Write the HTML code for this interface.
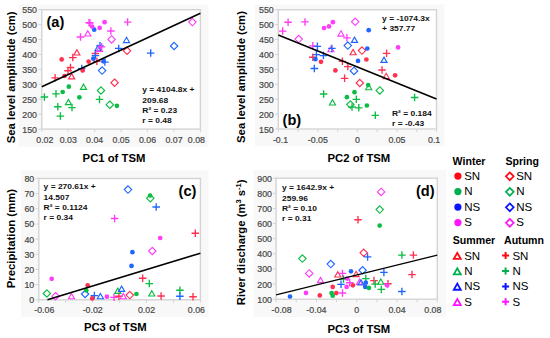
<!DOCTYPE html>
<html><head><meta charset="utf-8"><style>
html,body{margin:0;padding:0;background:#fff;}
body{width:550px;height:338px;overflow:hidden;}
svg{display:block;font-family:"Liberation Sans", sans-serif;}
.tk{font-size:9.8px;fill:#474747;stroke:#474747;stroke-width:0.22px;}
.eq{font-size:7.9px;font-weight:bold;fill:#111;}
.pl{font-size:14.6px;font-weight:bold;fill:#000;}
.at{font-size:11.3px;font-weight:bold;fill:#000;}
.lh{font-size:10.6px;font-weight:bold;fill:#000;}
.lt{font-size:11.5px;fill:#000;}
</style></head><body>
<svg width="550" height="338" viewBox="0 0 550 338">
<rect width="550" height="338" fill="#fff"/>
<rect x="18.6" y="4.5" width="190.0" height="142.2" fill="#f8f8f8"/>
<rect x="254.9" y="4.5" width="189.5" height="141.8" fill="#f8f8f8"/>
<rect x="21.0" y="170.5" width="187.6" height="146.5" fill="#f8f8f8"/>
<rect x="253.5" y="170.0" width="192.8" height="146.9" fill="#f8f8f8"/>
<rect x="41.8" y="9.7" width="158.60000000000002" height="119.39999999999999" fill="#ffffff" stroke="#d4d4d4" stroke-width="1.4"/>
<line x1="38.599999999999994" y1="129.10" x2="41.8" y2="129.10" stroke="#d4d4d4" stroke-width="1"/>
<text transform="translate(37.00 132.60) scale(0.9 1)" text-anchor="end" class="tk">150</text>
<line x1="38.599999999999994" y1="114.17" x2="41.8" y2="114.17" stroke="#d4d4d4" stroke-width="1"/>
<text transform="translate(37.00 117.67) scale(0.9 1)" text-anchor="end" class="tk">200</text>
<line x1="38.599999999999994" y1="99.25" x2="41.8" y2="99.25" stroke="#d4d4d4" stroke-width="1"/>
<text transform="translate(37.00 102.75) scale(0.9 1)" text-anchor="end" class="tk">250</text>
<line x1="38.599999999999994" y1="84.32" x2="41.8" y2="84.32" stroke="#d4d4d4" stroke-width="1"/>
<text transform="translate(37.00 87.82) scale(0.9 1)" text-anchor="end" class="tk">300</text>
<line x1="38.599999999999994" y1="69.40" x2="41.8" y2="69.40" stroke="#d4d4d4" stroke-width="1"/>
<text transform="translate(37.00 72.90) scale(0.9 1)" text-anchor="end" class="tk">350</text>
<line x1="38.599999999999994" y1="54.47" x2="41.8" y2="54.47" stroke="#d4d4d4" stroke-width="1"/>
<text transform="translate(37.00 57.97) scale(0.9 1)" text-anchor="end" class="tk">400</text>
<line x1="38.599999999999994" y1="39.55" x2="41.8" y2="39.55" stroke="#d4d4d4" stroke-width="1"/>
<text transform="translate(37.00 43.05) scale(0.9 1)" text-anchor="end" class="tk">450</text>
<line x1="38.599999999999994" y1="24.62" x2="41.8" y2="24.62" stroke="#d4d4d4" stroke-width="1"/>
<text transform="translate(37.00 28.12) scale(0.9 1)" text-anchor="end" class="tk">500</text>
<line x1="38.599999999999994" y1="9.70" x2="41.8" y2="9.70" stroke="#d4d4d4" stroke-width="1"/>
<text transform="translate(37.00 13.20) scale(0.9 1)" text-anchor="end" class="tk">550</text>
<line x1="41.80" y1="129.1" x2="41.80" y2="132.1" stroke="#d4d4d4" stroke-width="1"/>
<line x1="68.23" y1="129.1" x2="68.23" y2="132.1" stroke="#d4d4d4" stroke-width="1"/>
<line x1="94.67" y1="129.1" x2="94.67" y2="132.1" stroke="#d4d4d4" stroke-width="1"/>
<line x1="121.10" y1="129.1" x2="121.10" y2="132.1" stroke="#d4d4d4" stroke-width="1"/>
<line x1="147.53" y1="129.1" x2="147.53" y2="132.1" stroke="#d4d4d4" stroke-width="1"/>
<line x1="173.97" y1="129.1" x2="173.97" y2="132.1" stroke="#d4d4d4" stroke-width="1"/>
<line x1="200.40" y1="129.1" x2="200.40" y2="132.1" stroke="#d4d4d4" stroke-width="1"/>
<text transform="translate(44.80 142.70) scale(0.9 1)" text-anchor="middle" class="tk">0.02</text>
<text transform="translate(68.23 142.70) scale(0.9 1)" text-anchor="middle" class="tk">0.03</text>
<text transform="translate(94.67 142.70) scale(0.9 1)" text-anchor="middle" class="tk">0.04</text>
<text transform="translate(121.10 142.70) scale(0.9 1)" text-anchor="middle" class="tk">0.05</text>
<text transform="translate(147.53 142.70) scale(0.9 1)" text-anchor="middle" class="tk">0.06</text>
<text transform="translate(173.97 142.70) scale(0.9 1)" text-anchor="middle" class="tk">0.07</text>
<text transform="translate(196.40 142.70) scale(0.9 1)" text-anchor="middle" class="tk">0.08</text>
<rect x="278.3" y="9.7" width="158.2" height="119.3" fill="#ffffff" stroke="#d4d4d4" stroke-width="1.4"/>
<line x1="275.1" y1="129.00" x2="278.3" y2="129.00" stroke="#d4d4d4" stroke-width="1"/>
<text transform="translate(273.70 132.50) scale(0.9 1)" text-anchor="end" class="tk">150</text>
<line x1="275.1" y1="114.09" x2="278.3" y2="114.09" stroke="#d4d4d4" stroke-width="1"/>
<text transform="translate(273.70 117.59) scale(0.9 1)" text-anchor="end" class="tk">200</text>
<line x1="275.1" y1="99.17" x2="278.3" y2="99.17" stroke="#d4d4d4" stroke-width="1"/>
<text transform="translate(273.70 102.67) scale(0.9 1)" text-anchor="end" class="tk">250</text>
<line x1="275.1" y1="84.26" x2="278.3" y2="84.26" stroke="#d4d4d4" stroke-width="1"/>
<text transform="translate(273.70 87.76) scale(0.9 1)" text-anchor="end" class="tk">300</text>
<line x1="275.1" y1="69.35" x2="278.3" y2="69.35" stroke="#d4d4d4" stroke-width="1"/>
<text transform="translate(273.70 72.85) scale(0.9 1)" text-anchor="end" class="tk">350</text>
<line x1="275.1" y1="54.44" x2="278.3" y2="54.44" stroke="#d4d4d4" stroke-width="1"/>
<text transform="translate(273.70 57.94) scale(0.9 1)" text-anchor="end" class="tk">400</text>
<line x1="275.1" y1="39.53" x2="278.3" y2="39.53" stroke="#d4d4d4" stroke-width="1"/>
<text transform="translate(273.70 43.03) scale(0.9 1)" text-anchor="end" class="tk">450</text>
<line x1="275.1" y1="24.61" x2="278.3" y2="24.61" stroke="#d4d4d4" stroke-width="1"/>
<text transform="translate(273.70 28.11) scale(0.9 1)" text-anchor="end" class="tk">500</text>
<line x1="275.1" y1="9.70" x2="278.3" y2="9.70" stroke="#d4d4d4" stroke-width="1"/>
<text transform="translate(273.70 13.20) scale(0.9 1)" text-anchor="end" class="tk">550</text>
<line x1="278.30" y1="129.0" x2="278.30" y2="132.0" stroke="#d4d4d4" stroke-width="1"/>
<line x1="298.07" y1="129.0" x2="298.07" y2="132.0" stroke="#d4d4d4" stroke-width="1"/>
<line x1="317.85" y1="129.0" x2="317.85" y2="132.0" stroke="#d4d4d4" stroke-width="1"/>
<line x1="337.62" y1="129.0" x2="337.62" y2="132.0" stroke="#d4d4d4" stroke-width="1"/>
<line x1="357.40" y1="129.0" x2="357.40" y2="132.0" stroke="#d4d4d4" stroke-width="1"/>
<line x1="377.18" y1="129.0" x2="377.18" y2="132.0" stroke="#d4d4d4" stroke-width="1"/>
<line x1="396.95" y1="129.0" x2="396.95" y2="132.0" stroke="#d4d4d4" stroke-width="1"/>
<line x1="416.73" y1="129.0" x2="416.73" y2="132.0" stroke="#d4d4d4" stroke-width="1"/>
<line x1="436.50" y1="129.0" x2="436.50" y2="132.0" stroke="#d4d4d4" stroke-width="1"/>
<text transform="translate(280.50 142.70) scale(0.9 1)" text-anchor="middle" class="tk">-0.1</text>
<text transform="translate(317.85 142.70) scale(0.9 1)" text-anchor="middle" class="tk">-0.05</text>
<text transform="translate(357.40 142.70) scale(0.9 1)" text-anchor="middle" class="tk">0</text>
<text transform="translate(396.95 142.70) scale(0.9 1)" text-anchor="middle" class="tk">0.05</text>
<text transform="translate(434.10 142.70) scale(0.9 1)" text-anchor="middle" class="tk">0.1</text>
<rect x="38.8" y="178.5" width="161.60000000000002" height="121.30000000000001" fill="#ffffff" stroke="#d4d4d4" stroke-width="1.4"/>
<line x1="35.599999999999994" y1="299.80" x2="38.8" y2="299.80" stroke="#d4d4d4" stroke-width="1"/>
<text transform="translate(34.20 303.30) scale(0.9 1)" text-anchor="end" class="tk">0</text>
<line x1="35.599999999999994" y1="284.64" x2="38.8" y2="284.64" stroke="#d4d4d4" stroke-width="1"/>
<text transform="translate(34.20 288.14) scale(0.9 1)" text-anchor="end" class="tk">10</text>
<line x1="35.599999999999994" y1="269.48" x2="38.8" y2="269.48" stroke="#d4d4d4" stroke-width="1"/>
<text transform="translate(34.20 272.98) scale(0.9 1)" text-anchor="end" class="tk">20</text>
<line x1="35.599999999999994" y1="254.31" x2="38.8" y2="254.31" stroke="#d4d4d4" stroke-width="1"/>
<text transform="translate(34.20 257.81) scale(0.9 1)" text-anchor="end" class="tk">30</text>
<line x1="35.599999999999994" y1="239.15" x2="38.8" y2="239.15" stroke="#d4d4d4" stroke-width="1"/>
<text transform="translate(34.20 242.65) scale(0.9 1)" text-anchor="end" class="tk">40</text>
<line x1="35.599999999999994" y1="223.99" x2="38.8" y2="223.99" stroke="#d4d4d4" stroke-width="1"/>
<text transform="translate(34.20 227.49) scale(0.9 1)" text-anchor="end" class="tk">50</text>
<line x1="35.599999999999994" y1="208.82" x2="38.8" y2="208.82" stroke="#d4d4d4" stroke-width="1"/>
<text transform="translate(34.20 212.32) scale(0.9 1)" text-anchor="end" class="tk">60</text>
<line x1="35.599999999999994" y1="193.66" x2="38.8" y2="193.66" stroke="#d4d4d4" stroke-width="1"/>
<text transform="translate(34.20 197.16) scale(0.9 1)" text-anchor="end" class="tk">70</text>
<line x1="35.599999999999994" y1="178.50" x2="38.8" y2="178.50" stroke="#d4d4d4" stroke-width="1"/>
<text transform="translate(34.20 182.00) scale(0.9 1)" text-anchor="end" class="tk">80</text>
<line x1="38.80" y1="299.8" x2="38.80" y2="302.8" stroke="#d4d4d4" stroke-width="1"/>
<line x1="65.73" y1="299.8" x2="65.73" y2="302.8" stroke="#d4d4d4" stroke-width="1"/>
<line x1="92.67" y1="299.8" x2="92.67" y2="302.8" stroke="#d4d4d4" stroke-width="1"/>
<line x1="119.60" y1="299.8" x2="119.60" y2="302.8" stroke="#d4d4d4" stroke-width="1"/>
<line x1="146.53" y1="299.8" x2="146.53" y2="302.8" stroke="#d4d4d4" stroke-width="1"/>
<line x1="173.47" y1="299.8" x2="173.47" y2="302.8" stroke="#d4d4d4" stroke-width="1"/>
<line x1="200.40" y1="299.8" x2="200.40" y2="302.8" stroke="#d4d4d4" stroke-width="1"/>
<text transform="translate(44.30 313.20) scale(0.9 1)" text-anchor="middle" class="tk">-0.06</text>
<text transform="translate(92.67 313.20) scale(0.9 1)" text-anchor="middle" class="tk">-0.02</text>
<text transform="translate(146.53 313.20) scale(0.9 1)" text-anchor="middle" class="tk">0.02</text>
<text transform="translate(196.40 313.20) scale(0.9 1)" text-anchor="middle" class="tk">0.06</text>
<rect x="276.1" y="178.2" width="161.2" height="121.0" fill="#ffffff" stroke="#d4d4d4" stroke-width="1.4"/>
<line x1="272.90000000000003" y1="299.20" x2="276.1" y2="299.20" stroke="#d4d4d4" stroke-width="1"/>
<text transform="translate(272.00 302.70) scale(0.9 1)" text-anchor="end" class="tk">100</text>
<line x1="272.90000000000003" y1="284.07" x2="276.1" y2="284.07" stroke="#d4d4d4" stroke-width="1"/>
<text transform="translate(272.00 287.57) scale(0.9 1)" text-anchor="end" class="tk">200</text>
<line x1="272.90000000000003" y1="268.95" x2="276.1" y2="268.95" stroke="#d4d4d4" stroke-width="1"/>
<text transform="translate(272.00 272.45) scale(0.9 1)" text-anchor="end" class="tk">300</text>
<line x1="272.90000000000003" y1="253.82" x2="276.1" y2="253.82" stroke="#d4d4d4" stroke-width="1"/>
<text transform="translate(272.00 257.32) scale(0.9 1)" text-anchor="end" class="tk">400</text>
<line x1="272.90000000000003" y1="238.70" x2="276.1" y2="238.70" stroke="#d4d4d4" stroke-width="1"/>
<text transform="translate(272.00 242.20) scale(0.9 1)" text-anchor="end" class="tk">500</text>
<line x1="272.90000000000003" y1="223.57" x2="276.1" y2="223.57" stroke="#d4d4d4" stroke-width="1"/>
<text transform="translate(272.00 227.07) scale(0.9 1)" text-anchor="end" class="tk">600</text>
<line x1="272.90000000000003" y1="208.45" x2="276.1" y2="208.45" stroke="#d4d4d4" stroke-width="1"/>
<text transform="translate(272.00 211.95) scale(0.9 1)" text-anchor="end" class="tk">700</text>
<line x1="272.90000000000003" y1="193.32" x2="276.1" y2="193.32" stroke="#d4d4d4" stroke-width="1"/>
<text transform="translate(272.00 196.82) scale(0.9 1)" text-anchor="end" class="tk">800</text>
<line x1="272.90000000000003" y1="178.20" x2="276.1" y2="178.20" stroke="#d4d4d4" stroke-width="1"/>
<text transform="translate(272.00 181.70) scale(0.9 1)" text-anchor="end" class="tk">900</text>
<line x1="276.10" y1="299.2" x2="276.10" y2="302.2" stroke="#d4d4d4" stroke-width="1"/>
<line x1="296.25" y1="299.2" x2="296.25" y2="302.2" stroke="#d4d4d4" stroke-width="1"/>
<line x1="316.40" y1="299.2" x2="316.40" y2="302.2" stroke="#d4d4d4" stroke-width="1"/>
<line x1="336.55" y1="299.2" x2="336.55" y2="302.2" stroke="#d4d4d4" stroke-width="1"/>
<line x1="356.70" y1="299.2" x2="356.70" y2="302.2" stroke="#d4d4d4" stroke-width="1"/>
<line x1="376.85" y1="299.2" x2="376.85" y2="302.2" stroke="#d4d4d4" stroke-width="1"/>
<line x1="397.00" y1="299.2" x2="397.00" y2="302.2" stroke="#d4d4d4" stroke-width="1"/>
<line x1="417.15" y1="299.2" x2="417.15" y2="302.2" stroke="#d4d4d4" stroke-width="1"/>
<line x1="437.30" y1="299.2" x2="437.30" y2="302.2" stroke="#d4d4d4" stroke-width="1"/>
<text transform="translate(281.60 313.20) scale(0.9 1)" text-anchor="middle" class="tk">-0.08</text>
<text transform="translate(316.40 313.20) scale(0.9 1)" text-anchor="middle" class="tk">-0.04</text>
<text transform="translate(356.70 313.20) scale(0.9 1)" text-anchor="middle" class="tk">0</text>
<text transform="translate(397.00 313.20) scale(0.9 1)" text-anchor="middle" class="tk">0.04</text>
<text transform="translate(432.80 313.20) scale(0.9 1)" text-anchor="middle" class="tk">0.08</text>
<path d="M40.65 97.00H48.15M44.40 93.25V100.75" fill="none" stroke="#0cbc44" stroke-width="1.35"/>
<path d="M52.25 93.80H59.75M56.00 90.05V97.55" fill="none" stroke="#0cbc44" stroke-width="1.35"/>
<path d="M83.50 84.09L86.55 89.38L80.45 89.38Z" fill="none" stroke="#0cbc44" stroke-width="1.15" stroke-linejoin="miter"/>
<path d="M68.40 99.39L71.45 104.68L65.35 104.68Z" fill="none" stroke="#0cbc44" stroke-width="1.15" stroke-linejoin="miter"/>
<path d="M68.25 107.60H75.75M72.00 103.85V111.35" fill="none" stroke="#0cbc44" stroke-width="1.35"/>
<path d="M54.05 106.70H61.55M57.80 102.95V110.45" fill="none" stroke="#0cbc44" stroke-width="1.35"/>
<path d="M56.65 116.10H64.15M60.40 112.35V119.85" fill="none" stroke="#0cbc44" stroke-width="1.35"/>
<path d="M101.00 86.80L104.70 90.50L101.00 94.20L97.30 90.50Z" fill="none" stroke="#0cbc44" stroke-width="1.15"/>
<path d="M95.75 99.40H103.25M99.50 95.65V103.15" fill="none" stroke="#0cbc44" stroke-width="1.35"/>
<path d="M109.80 101.00L113.50 104.70L109.80 108.40L106.10 104.70Z" fill="none" stroke="#0cbc44" stroke-width="1.15"/>
<path d="M51.35 77.80H58.85M55.10 74.05V81.55" fill="none" stroke="#ff3050" stroke-width="1.35"/>
<path d="M64.25 70.70H71.75M68.00 66.95V74.45" fill="none" stroke="#ff3050" stroke-width="1.35"/>
<path d="M66.75 67.50H74.25M70.50 63.75V71.25" fill="none" stroke="#ff3050" stroke-width="1.35"/>
<path d="M71.60 73.59L74.65 78.88L68.55 78.88Z" fill="none" stroke="#ff3050" stroke-width="1.15" stroke-linejoin="miter"/>
<path d="M76.90 49.69L79.95 54.98L73.85 54.98Z" fill="none" stroke="#ff3050" stroke-width="1.15" stroke-linejoin="miter"/>
<path d="M69.05 57.60H76.55M72.80 53.85V61.35" fill="none" stroke="#ff3050" stroke-width="1.35"/>
<path d="M91.65 53.50H99.15M95.40 49.75V57.25" fill="none" stroke="#ff3050" stroke-width="1.35"/>
<path d="M93.15 61.30H100.65M96.90 57.55V65.05" fill="none" stroke="#ff3050" stroke-width="1.35"/>
<path d="M114.60 79.00L118.30 82.70L114.60 86.40L110.90 82.70Z" fill="none" stroke="#ff3050" stroke-width="1.15"/>
<path d="M127.00 47.10L130.70 50.80L127.00 54.50L123.30 50.80Z" fill="none" stroke="#ff3050" stroke-width="1.15"/>
<path d="M77.95 68.60H85.45M81.70 64.85V72.35" fill="none" stroke="#1e66ff" stroke-width="1.35"/>
<path d="M91.65 55.60H99.15M95.40 51.85V59.35" fill="none" stroke="#1e66ff" stroke-width="1.35"/>
<path d="M96.25 45.80H103.75M100.00 42.05V49.55" fill="none" stroke="#1e66ff" stroke-width="1.35"/>
<path d="M98.00 45.49L101.05 50.78L94.95 50.78Z" fill="none" stroke="#1e66ff" stroke-width="1.15" stroke-linejoin="miter"/>
<path d="M101.15 62.10H108.65M104.90 58.35V65.85" fill="none" stroke="#1e66ff" stroke-width="1.35"/>
<path d="M102.10 66.90L105.80 70.60L102.10 74.30L98.40 70.60Z" fill="none" stroke="#1e66ff" stroke-width="1.15"/>
<path d="M114.95 48.40H122.45M118.70 44.65V52.15" fill="none" stroke="#1e66ff" stroke-width="1.35"/>
<path d="M126.50 37.29L129.55 42.58L123.45 42.58Z" fill="none" stroke="#1e66ff" stroke-width="1.15" stroke-linejoin="miter"/>
<path d="M174.10 42.30L177.80 46.00L174.10 49.70L170.40 46.00Z" fill="none" stroke="#1e66ff" stroke-width="1.15"/>
<path d="M146.95 53.10H154.45M150.70 49.35V56.85" fill="none" stroke="#1e66ff" stroke-width="1.35"/>
<path d="M85.25 22.60H92.75M89.00 18.85V26.35" fill="none" stroke="#ff3cf8" stroke-width="1.35"/>
<path d="M86.25 23.00H93.75M90.00 19.25V26.75" fill="none" stroke="#ff3cf8" stroke-width="1.35"/>
<path d="M107.15 31.00H114.65M110.90 27.25V34.75" fill="none" stroke="#ff3cf8" stroke-width="1.35"/>
<path d="M111.60 35.70L115.30 39.40L111.60 43.10L107.90 39.40Z" fill="none" stroke="#ff3cf8" stroke-width="1.15"/>
<path d="M87.80 30.69L90.85 35.98L84.75 35.98Z" fill="none" stroke="#ff3cf8" stroke-width="1.15" stroke-linejoin="miter"/>
<path d="M76.75 37.00H84.25M80.50 33.25V40.75" fill="none" stroke="#ff3cf8" stroke-width="1.35"/>
<path d="M97.85 46.80H105.35M101.60 43.05V50.55" fill="none" stroke="#ff3cf8" stroke-width="1.35"/>
<path d="M99.50 46.09L102.55 51.38L96.45 51.38Z" fill="none" stroke="#ff3cf8" stroke-width="1.15" stroke-linejoin="miter"/>
<path d="M123.85 22.10H131.35M127.60 18.35V25.85" fill="none" stroke="#ff3cf8" stroke-width="1.35"/>
<path d="M192.40 18.40L196.10 22.10L192.40 25.80L188.70 22.10Z" fill="none" stroke="#ff3cf8" stroke-width="1.15"/>
<circle cx="62.7" cy="92.0" r="2.35" fill="#0cbc44"/>
<circle cx="68.8" cy="86.7" r="2.35" fill="#0cbc44"/>
<circle cx="79.4" cy="97.3" r="2.35" fill="#0cbc44"/>
<circle cx="116.9" cy="105.8" r="2.35" fill="#0cbc44"/>
<circle cx="64.5" cy="76.0" r="2.35" fill="#ff3050"/>
<circle cx="82.7" cy="70.5" r="2.35" fill="#ff3050"/>
<circle cx="61.7" cy="59.4" r="2.35" fill="#ff3050"/>
<circle cx="88.6" cy="61.6" r="2.35" fill="#ff3050"/>
<circle cx="93.3" cy="58.7" r="2.35" fill="#1e66ff"/>
<circle cx="103.6" cy="61.3" r="2.35" fill="#1e66ff"/>
<circle cx="94.2" cy="29.7" r="2.35" fill="#1e66ff"/>
<circle cx="92.1" cy="26.5" r="2.35" fill="#ff3cf8"/>
<circle cx="99.7" cy="27.9" r="2.35" fill="#ff3cf8"/>
<circle cx="104.6" cy="22.2" r="2.35" fill="#ff3cf8"/>
<path d="M284.35 22.20H291.85M288.10 18.45V25.95" fill="none" stroke="#ff3cf8" stroke-width="1.35"/>
<path d="M301.25 21.90H308.75M305.00 18.15V25.65" fill="none" stroke="#ff3cf8" stroke-width="1.35"/>
<path d="M278.95 31.10H286.45M282.70 27.35V34.85" fill="none" stroke="#ff3cf8" stroke-width="1.35"/>
<path d="M298.70 35.40L302.40 39.10L298.70 42.80L295.00 39.10Z" fill="none" stroke="#ff3cf8" stroke-width="1.15"/>
<path d="M309.05 45.80H316.55M312.80 42.05V49.55" fill="none" stroke="#ff3cf8" stroke-width="1.35"/>
<path d="M330.90 46.49L333.95 51.78L327.85 51.78Z" fill="none" stroke="#ff3cf8" stroke-width="1.15" stroke-linejoin="miter"/>
<path d="M341.00 30.79L344.05 36.08L337.95 36.08Z" fill="none" stroke="#ff3cf8" stroke-width="1.15" stroke-linejoin="miter"/>
<path d="M343.15 37.80H350.65M346.90 34.05V41.55" fill="none" stroke="#ff3cf8" stroke-width="1.35"/>
<path d="M355.20 18.10L358.90 21.80L355.20 25.50L351.50 21.80Z" fill="none" stroke="#ff3cf8" stroke-width="1.15"/>
<path d="M313.65 46.30H321.15M317.40 42.55V50.05" fill="none" stroke="#1e66ff" stroke-width="1.35"/>
<path d="M328.15 48.40H335.65M331.90 44.65V52.15" fill="none" stroke="#1e66ff" stroke-width="1.35"/>
<path d="M312.65 54.60H320.15M316.40 50.85V58.35" fill="none" stroke="#1e66ff" stroke-width="1.35"/>
<path d="M319.65 55.60H327.15M323.40 51.85V59.35" fill="none" stroke="#1e66ff" stroke-width="1.35"/>
<path d="M310.55 68.50H318.05M314.30 64.75V72.25" fill="none" stroke="#1e66ff" stroke-width="1.35"/>
<path d="M354.50 37.09L357.55 42.38L351.45 42.38Z" fill="none" stroke="#1e66ff" stroke-width="1.15" stroke-linejoin="miter"/>
<path d="M347.80 41.90L351.50 45.60L347.80 49.30L344.10 45.60Z" fill="none" stroke="#1e66ff" stroke-width="1.15"/>
<path d="M384.00 57.09L387.05 62.38L380.95 62.38Z" fill="none" stroke="#1e66ff" stroke-width="1.15" stroke-linejoin="miter"/>
<path d="M354.00 67.20L357.70 70.90L354.00 74.60L350.30 70.90Z" fill="none" stroke="#1e66ff" stroke-width="1.15"/>
<path d="M309.05 57.20H316.55M312.80 53.45V60.95" fill="none" stroke="#ff3050" stroke-width="1.35"/>
<path d="M353.10 49.49L356.15 54.78L350.05 54.78Z" fill="none" stroke="#ff3050" stroke-width="1.15" stroke-linejoin="miter"/>
<path d="M362.00 46.90L365.70 50.60L362.00 54.30L358.30 50.60Z" fill="none" stroke="#ff3050" stroke-width="1.15"/>
<path d="M382.85 53.30H390.35M386.60 49.55V57.05" fill="none" stroke="#ff3050" stroke-width="1.35"/>
<path d="M338.65 61.30H346.15M342.40 57.55V65.05" fill="none" stroke="#ff3050" stroke-width="1.35"/>
<path d="M344.05 66.60H351.55M347.80 62.85V70.35" fill="none" stroke="#ff3050" stroke-width="1.35"/>
<path d="M340.85 78.30H348.35M344.60 74.55V82.05" fill="none" stroke="#ff3050" stroke-width="1.35"/>
<path d="M359.80 79.30L363.50 83.00L359.80 86.70L356.10 83.00Z" fill="none" stroke="#ff3050" stroke-width="1.15"/>
<path d="M378.25 70.00H385.75M382.00 66.25V73.75" fill="none" stroke="#ff3050" stroke-width="1.35"/>
<path d="M386.20 73.29L389.25 78.58L383.15 78.58Z" fill="none" stroke="#ff3050" stroke-width="1.15" stroke-linejoin="miter"/>
<path d="M319.85 94.00H327.35M323.60 90.25V97.75" fill="none" stroke="#0cbc44" stroke-width="1.35"/>
<path d="M332.50 99.69L335.55 104.98L329.45 104.98Z" fill="none" stroke="#0cbc44" stroke-width="1.15" stroke-linejoin="miter"/>
<path d="M368.70 84.49L371.75 89.78L365.65 89.78Z" fill="none" stroke="#0cbc44" stroke-width="1.15" stroke-linejoin="miter"/>
<path d="M379.80 86.70L383.50 90.40L379.80 94.10L376.10 90.40Z" fill="none" stroke="#0cbc44" stroke-width="1.15"/>
<path d="M352.55 99.30H360.05M356.30 95.55V103.05" fill="none" stroke="#0cbc44" stroke-width="1.35"/>
<path d="M350.40 100.90L354.10 104.60L350.40 108.30L346.70 104.60Z" fill="none" stroke="#0cbc44" stroke-width="1.15"/>
<path d="M355.05 107.80H362.55M358.80 104.05V111.55" fill="none" stroke="#0cbc44" stroke-width="1.35"/>
<path d="M348.25 107.00H355.75M352.00 103.25V110.75" fill="none" stroke="#0cbc44" stroke-width="1.35"/>
<path d="M371.55 115.30H379.05M375.30 111.55V119.05" fill="none" stroke="#0cbc44" stroke-width="1.35"/>
<path d="M410.85 97.50H418.35M414.60 93.75V101.25" fill="none" stroke="#0cbc44" stroke-width="1.35"/>
<circle cx="324.0" cy="28.1" r="2.35" fill="#ff3cf8"/>
<circle cx="329.0" cy="26.4" r="2.35" fill="#ff3cf8"/>
<circle cx="332.9" cy="22.2" r="2.35" fill="#ff3cf8"/>
<circle cx="398.1" cy="47.4" r="2.35" fill="#ff3cf8"/>
<circle cx="315.4" cy="59.2" r="2.35" fill="#1e66ff"/>
<circle cx="368.7" cy="30.2" r="2.35" fill="#1e66ff"/>
<circle cx="367.3" cy="48.5" r="2.35" fill="#1e66ff"/>
<circle cx="358.0" cy="60.9" r="2.35" fill="#1e66ff"/>
<circle cx="321.0" cy="61.8" r="2.35" fill="#ff3050"/>
<circle cx="335.4" cy="70.4" r="2.35" fill="#ff3050"/>
<circle cx="366.4" cy="59.5" r="2.35" fill="#ff3050"/>
<circle cx="395.1" cy="75.3" r="2.35" fill="#ff3050"/>
<circle cx="368.2" cy="85.0" r="2.35" fill="#0cbc44"/>
<circle cx="354.5" cy="92.2" r="2.35" fill="#0cbc44"/>
<circle cx="346.9" cy="97.2" r="2.35" fill="#0cbc44"/>
<circle cx="366.9" cy="105.5" r="2.35" fill="#0cbc44"/>
<path d="M128.00 185.90L131.70 189.60L128.00 193.30L124.30 189.60Z" fill="none" stroke="#1e66ff" stroke-width="1.15"/>
<path d="M150.30 194.60L154.00 198.30L150.30 202.00L146.60 198.30Z" fill="none" stroke="#0cbc44" stroke-width="1.15"/>
<path d="M152.45 207.00H159.95M156.20 203.25V210.75" fill="none" stroke="#1e66ff" stroke-width="1.35"/>
<path d="M110.85 218.50H118.35M114.60 214.75V222.25" fill="none" stroke="#ff3cf8" stroke-width="1.35"/>
<path d="M191.55 233.20H199.05M195.30 229.45V236.95" fill="none" stroke="#ff3050" stroke-width="1.35"/>
<path d="M46.90 289.80L50.60 293.50L46.90 297.20L43.20 293.50Z" fill="none" stroke="#0cbc44" stroke-width="1.15"/>
<path d="M55.60 292.50L59.30 296.20L55.60 299.90L51.90 296.20Z" fill="none" stroke="#ff3cf8" stroke-width="1.15"/>
<path d="M71.50 293.49L74.55 298.78L68.45 298.78Z" fill="none" stroke="#ff3cf8" stroke-width="1.15" stroke-linejoin="miter"/>
<path d="M85.10 290.30L88.80 294.00L85.10 297.70L81.40 294.00Z" fill="none" stroke="#1e66ff" stroke-width="1.15"/>
<path d="M90.65 295.60H98.15M94.40 291.85V299.35" fill="none" stroke="#1e66ff" stroke-width="1.35"/>
<path d="M100.40 293.49L103.45 298.78L97.35 298.78Z" fill="none" stroke="#1e66ff" stroke-width="1.15" stroke-linejoin="miter"/>
<path d="M110.25 297.30H117.75M114.00 293.55V301.05" fill="none" stroke="#ff3cf8" stroke-width="1.35"/>
<path d="M115.15 296.20H122.65M118.90 292.45V299.95" fill="none" stroke="#ff3050" stroke-width="1.35"/>
<path d="M117.80 288.09L120.85 293.38L114.75 293.38Z" fill="none" stroke="#0cbc44" stroke-width="1.15" stroke-linejoin="miter"/>
<path d="M121.60 286.09L124.65 291.38L118.55 291.38Z" fill="none" stroke="#1e66ff" stroke-width="1.15" stroke-linejoin="miter"/>
<path d="M123.30 293.49L126.35 298.78L120.25 298.78Z" fill="none" stroke="#ff3cf8" stroke-width="1.15" stroke-linejoin="miter"/>
<path d="M129.80 291.40L133.50 295.10L129.80 298.80L126.10 295.10Z" fill="none" stroke="#ff3050" stroke-width="1.15"/>
<path d="M138.95 278.20H146.45M142.70 274.45V281.95" fill="none" stroke="#ff3050" stroke-width="1.35"/>
<path d="M145.55 283.60H153.05M149.30 279.85V287.35" fill="none" stroke="#0cbc44" stroke-width="1.35"/>
<path d="M152.30 247.30L156.00 251.00L152.30 254.70L148.60 251.00Z" fill="none" stroke="#ff3cf8" stroke-width="1.15"/>
<path d="M151.80 290.69L154.85 295.98L148.75 295.98Z" fill="none" stroke="#0cbc44" stroke-width="1.15" stroke-linejoin="miter"/>
<path d="M157.35 296.00H164.85M161.10 292.25V299.75" fill="none" stroke="#ff3050" stroke-width="1.35"/>
<path d="M176.15 290.20H183.65M179.90 286.45V293.95" fill="none" stroke="#0cbc44" stroke-width="1.35"/>
<path d="M176.15 296.20H183.65M179.90 292.45V299.95" fill="none" stroke="#1e66ff" stroke-width="1.35"/>
<path d="M189.25 296.70H196.75M193.00 292.95V300.45" fill="none" stroke="#ff3050" stroke-width="1.35"/>
<circle cx="150.1" cy="195.5" r="2.35" fill="#0cbc44"/>
<circle cx="51.7" cy="278.8" r="2.35" fill="#ff3cf8"/>
<circle cx="87.7" cy="285.3" r="2.35" fill="#ff3050"/>
<circle cx="86.3" cy="290.4" r="2.35" fill="#0cbc44"/>
<circle cx="92.2" cy="298.4" r="2.35" fill="#ff3050"/>
<circle cx="106.9" cy="296.7" r="2.35" fill="#ff3cf8"/>
<circle cx="136.4" cy="294.0" r="2.35" fill="#0cbc44"/>
<circle cx="132.4" cy="252.2" r="2.35" fill="#1e66ff"/>
<circle cx="131.5" cy="265.9" r="2.35" fill="#1e66ff"/>
<circle cx="160.2" cy="238.0" r="2.35" fill="#ff3cf8"/>
<path d="M381.10 188.20L384.80 191.90L381.10 195.60L377.40 191.90Z" fill="none" stroke="#ff3cf8" stroke-width="1.15"/>
<path d="M379.70 205.90L383.40 209.60L379.70 213.30L376.00 209.60Z" fill="none" stroke="#0cbc44" stroke-width="1.15"/>
<path d="M354.25 219.70H361.75M358.00 215.95V223.45" fill="none" stroke="#ff3050" stroke-width="1.35"/>
<path d="M302.40 254.90L306.10 258.60L302.40 262.30L298.70 258.60Z" fill="none" stroke="#0cbc44" stroke-width="1.15"/>
<path d="M330.80 260.40L334.50 264.10L330.80 267.80L327.10 264.10Z" fill="none" stroke="#1e66ff" stroke-width="1.15"/>
<path d="M309.20 269.70L312.90 273.40L309.20 277.10L305.50 273.40Z" fill="none" stroke="#ff3cf8" stroke-width="1.15"/>
<path d="M320.50 277.39L323.55 282.68L317.45 282.68Z" fill="none" stroke="#ff3cf8" stroke-width="1.15" stroke-linejoin="miter"/>
<path d="M363.70 249.10L367.40 252.80L363.70 256.50L360.00 252.80Z" fill="none" stroke="#ff3050" stroke-width="1.15"/>
<path d="M363.85 256.90H371.35M367.60 253.15V260.65" fill="none" stroke="#1e66ff" stroke-width="1.35"/>
<path d="M398.15 255.10H405.65M401.90 251.35V258.85" fill="none" stroke="#0cbc44" stroke-width="1.35"/>
<path d="M409.65 255.10H417.15M413.40 251.35V258.85" fill="none" stroke="#ff3050" stroke-width="1.35"/>
<path d="M408.25 274.60H415.75M412.00 270.85V278.35" fill="none" stroke="#ff3050" stroke-width="1.35"/>
<path d="M398.15 291.50H405.65M401.90 287.75V295.25" fill="none" stroke="#1e66ff" stroke-width="1.35"/>
<path d="M337.80 271.69L340.85 276.98L334.75 276.98Z" fill="none" stroke="#ff3050" stroke-width="1.15" stroke-linejoin="miter"/>
<path d="M338.75 273.40H346.25M342.50 269.65V277.15" fill="none" stroke="#ff3cf8" stroke-width="1.35"/>
<path d="M356.10 271.29L359.15 276.58L353.05 276.58Z" fill="none" stroke="#ff3050" stroke-width="1.15" stroke-linejoin="miter"/>
<path d="M362.60 266.60L366.30 270.30L362.60 274.00L358.90 270.30Z" fill="none" stroke="#1e66ff" stroke-width="1.15"/>
<path d="M380.15 272.40H387.65M383.90 268.65V276.15" fill="none" stroke="#1e66ff" stroke-width="1.35"/>
<path d="M339.75 279.10H347.25M343.50 275.35V282.85" fill="none" stroke="#0cbc44" stroke-width="1.35"/>
<path d="M337.25 284.30H344.75M341.00 280.55V288.05" fill="none" stroke="#1e66ff" stroke-width="1.35"/>
<path d="M359.50 279.09L362.55 284.38L356.45 284.38Z" fill="none" stroke="#ff3cf8" stroke-width="1.15" stroke-linejoin="miter"/>
<path d="M345.95 282.70H353.45M349.70 278.95V286.45" fill="none" stroke="#ff3cf8" stroke-width="1.35"/>
<path d="M338.75 293.00H346.25M342.50 289.25V296.75" fill="none" stroke="#ff3cf8" stroke-width="1.35"/>
<path d="M362.05 278.60H369.55M365.80 274.85V282.35" fill="none" stroke="#0cbc44" stroke-width="1.35"/>
<path d="M370.25 280.60H377.75M374.00 276.85V284.35" fill="none" stroke="#ff3050" stroke-width="1.35"/>
<path d="M380.80 278.99L383.85 284.28L377.75 284.28Z" fill="none" stroke="#0cbc44" stroke-width="1.15" stroke-linejoin="miter"/>
<path d="M371.45 284.10H378.95M375.20 280.35V287.85" fill="none" stroke="#0cbc44" stroke-width="1.35"/>
<path d="M384.25 283.70H391.75M388.00 279.95V287.45" fill="none" stroke="#ff3050" stroke-width="1.35"/>
<path d="M377.55 289.40H385.05M381.30 285.65V293.15" fill="none" stroke="#0cbc44" stroke-width="1.35"/>
<path d="M361.00 279.69L364.05 284.98L357.95 284.98Z" fill="none" stroke="#1e66ff" stroke-width="1.15" stroke-linejoin="miter"/>
<circle cx="379.7" cy="225.6" r="2.35" fill="#0cbc44"/>
<circle cx="290.0" cy="296.5" r="2.35" fill="#1e66ff"/>
<circle cx="306.0" cy="292.9" r="2.35" fill="#ff3cf8"/>
<circle cx="319.8" cy="295.4" r="2.35" fill="#ff3050"/>
<circle cx="351.0" cy="271.3" r="2.35" fill="#1e66ff"/>
<circle cx="347.2" cy="278.6" r="2.35" fill="#ff3cf8"/>
<circle cx="346.6" cy="286.9" r="2.35" fill="#ff3cf8"/>
<circle cx="352.9" cy="285.3" r="2.35" fill="#ff3050"/>
<circle cx="332.7" cy="286.9" r="2.35" fill="#ff3050"/>
<circle cx="331.6" cy="293.1" r="2.35" fill="#0cbc44"/>
<circle cx="336.3" cy="293.1" r="2.35" fill="#ff3050"/>
<circle cx="332.7" cy="295.7" r="2.35" fill="#0cbc44"/>
<circle cx="365.8" cy="282.7" r="2.35" fill="#1e66ff"/>
<circle cx="365.2" cy="286.9" r="2.35" fill="#1e66ff"/>
<circle cx="368.9" cy="287.9" r="2.35" fill="#0cbc44"/>
<circle cx="387.0" cy="285.3" r="2.35" fill="#ff3cf8"/>
<line x1="41.8" y1="86.78" x2="200.4" y2="13.26" stroke="#000" stroke-width="1.6"/>
<line x1="278.3" y1="34.99" x2="436.5" y2="99.07" stroke="#000" stroke-width="1.6"/>
<line x1="47.41" y1="299.8" x2="200.4" y2="253.19" stroke="#000" stroke-width="1.6"/>
<line x1="276.1" y1="294.89" x2="437.3" y2="255.13" stroke="#000" stroke-width="1.15"/>
<text transform="translate(142.30 92.30) scale(1.07 1)" class="eq">y = 4104.8x +</text>
<text transform="translate(142.30 102.80) scale(1.07 1)" class="eq">209.68</text>
<text transform="translate(142.30 113.10) scale(1.07 1)" class="eq">R² = 0.23</text>
<text transform="translate(142.30 123.40) scale(1.07 1)" class="eq">r = 0.48</text>
<text transform="translate(382.10 20.60) scale(1.07 1)" class="eq">y = -1074.3x</text>
<text transform="translate(382.10 30.70) scale(1.07 1)" class="eq">+ 357.77</text>
<text transform="translate(392.00 115.80) scale(1.07 1)" class="eq">R² = 0.184</text>
<text transform="translate(392.00 125.60) scale(1.07 1)" class="eq">r = -0.43</text>
<text transform="translate(43.60 189.30) scale(1.07 1)" class="eq">y = 270.61x +</text>
<text transform="translate(43.60 199.50) scale(1.07 1)" class="eq">14.507</text>
<text transform="translate(43.60 209.60) scale(1.07 1)" class="eq">R² = 0.1124</text>
<text transform="translate(43.60 219.80) scale(1.07 1)" class="eq">r = 0.34</text>
<text transform="translate(282.00 190.10) scale(1.07 1)" class="eq">y = 1642.9x +</text>
<text transform="translate(282.00 200.60) scale(1.07 1)" class="eq">259.96</text>
<text transform="translate(282.00 210.60) scale(1.07 1)" class="eq">R² = 0.10</text>
<text transform="translate(282.00 220.80) scale(1.07 1)" class="eq">r = 0.31</text>
<text x="46.5" y="26.5" class="pl">(a)</text>
<text x="282.6" y="124.6" class="pl">(b)</text>
<text x="178.6" y="195.5" class="pl">(c)</text>
<text x="416.0" y="195.9" class="pl">(d)</text>
<text x="114" y="162.2" text-anchor="middle" class="at">PC1 of TSM</text>
<text x="358.9" y="162.0" text-anchor="middle" class="at">PC2 of TSM</text>
<text x="115.3" y="331.4" text-anchor="middle" class="at">PC3 of TSM</text>
<text x="358.9" y="333.2" text-anchor="middle" class="at">PC3 of TSM</text>
<text transform="translate(15.0 77.3) rotate(-90)" text-anchor="middle" class="at">Sea level amplitude (cm)</text>
<text transform="translate(245.3 77.0) rotate(-90)" text-anchor="middle" class="at">Sea level amplitude (cm)</text>
<text transform="translate(15.3 238.6) rotate(-90)" text-anchor="middle" class="at">Precipitation (mm)</text>
<text transform="translate(244.9 242.4) rotate(-90)" text-anchor="middle" class="at">River discharge (m<tspan dy="-4" font-size="7.5">3</tspan><tspan dy="4"> s</tspan><tspan dy="-4" font-size="7.5">-1</tspan><tspan dy="4">)</tspan></text>
<text x="452.6" y="165.0" class="lh">Winter</text>
<text x="505.4" y="165.0" class="lh">Spring</text>
<text x="452.8" y="243.5" class="lh">Summer</text>
<text x="504.0" y="243.5" class="lh">Autumn</text>
<circle cx="457.9" cy="176.10000000000002" r="3.6" fill="#ff0a14"/>
<text x="464.2" y="179.8" class="lt">SN</text>
<path d="M509.80 172.40L513.70 176.30L509.80 180.20L505.90 176.30Z" fill="none" stroke="#ff0a14" stroke-width="1.7"/>
<text x="516.2" y="179.8" class="lt">SN</text>
<circle cx="457.9" cy="191.60000000000002" r="3.6" fill="#00b050"/>
<text x="464.2" y="195.3" class="lt">N</text>
<path d="M509.80 187.90L513.70 191.80L509.80 195.70L505.90 191.80Z" fill="none" stroke="#00b050" stroke-width="1.7"/>
<text x="516.2" y="195.3" class="lt">N</text>
<circle cx="457.9" cy="207.10000000000002" r="3.6" fill="#0a14ff"/>
<text x="464.2" y="210.8" class="lt">NS</text>
<path d="M509.80 203.40L513.70 207.30L509.80 211.20L505.90 207.30Z" fill="none" stroke="#0a14ff" stroke-width="1.7"/>
<text x="516.2" y="210.8" class="lt">NS</text>
<circle cx="457.9" cy="222.60000000000002" r="3.6" fill="#ff14ff"/>
<text x="464.2" y="226.3" class="lt">S</text>
<path d="M509.80 218.90L513.70 222.80L509.80 226.70L505.90 222.80Z" fill="none" stroke="#ff14ff" stroke-width="1.7"/>
<text x="516.2" y="226.3" class="lt">S</text>
<path d="M457.30 252.87L460.80 258.93L453.80 258.93Z" fill="none" stroke="#ff0a14" stroke-width="1.8" stroke-linejoin="miter"/>
<text x="464.2" y="259.5" class="lt">SN</text>
<path d="M502.10 255.60H509.10M505.60 252.10V259.10" fill="none" stroke="#ff0a14" stroke-width="2.0"/>
<text x="512.4" y="259.5" class="lt">SN</text>
<path d="M457.30 268.27L460.80 274.33L453.80 274.33Z" fill="none" stroke="#00b050" stroke-width="1.8" stroke-linejoin="miter"/>
<text x="464.2" y="274.9" class="lt">N</text>
<path d="M502.10 271.00H509.10M505.60 267.50V274.50" fill="none" stroke="#00b050" stroke-width="2.0"/>
<text x="512.4" y="274.9" class="lt">N</text>
<path d="M457.30 283.67L460.80 289.73L453.80 289.73Z" fill="none" stroke="#0a14ff" stroke-width="1.8" stroke-linejoin="miter"/>
<text x="464.2" y="290.3" class="lt">NS</text>
<path d="M502.10 286.40H509.10M505.60 282.90V289.90" fill="none" stroke="#0a14ff" stroke-width="2.0"/>
<text x="512.4" y="290.3" class="lt">NS</text>
<path d="M457.30 299.07L460.80 305.13L453.80 305.13Z" fill="none" stroke="#ff14ff" stroke-width="1.8" stroke-linejoin="miter"/>
<text x="464.2" y="305.7" class="lt">S</text>
<path d="M502.10 301.80H509.10M505.60 298.30V305.30" fill="none" stroke="#ff14ff" stroke-width="2.0"/>
<text x="512.4" y="305.7" class="lt">S</text>
</svg>
</body></html>
